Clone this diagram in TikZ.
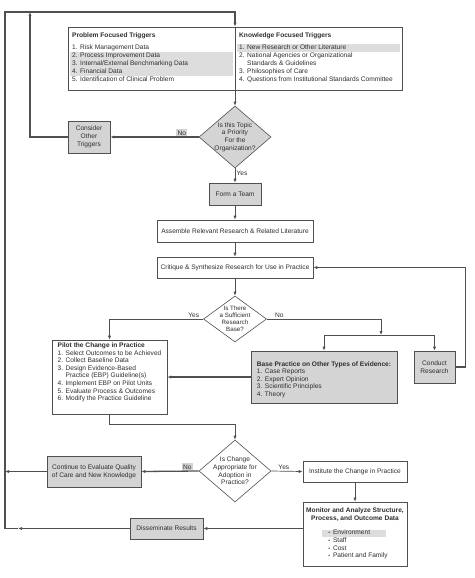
\documentclass[tikz,border=0pt]{standalone}
\usepackage{fontspec}
\setmainfont{Liberation Sans}
\usetikzlibrary{shapes.geometric,arrows.meta}
\definecolor{boxgray}{HTML}{D4D4D4}
\definecolor{hlgray}{HTML}{DDDDDD}
\definecolor{inkgray}{HTML}{2E2E2E}
\definecolor{linegray}{HTML}{505050}
\tikzset{
  box/.style={draw=linegray,fill=white,text=inkgray,line width=0.6pt,inner sep=1pt,align=center},
  graybox/.style={box,fill=boxgray},
  decision/.style={draw=linegray,fill=white,text=inkgray,line width=0.6pt,shape=diamond,inner sep=-5pt,align=center},
  flow/.style={draw=linegray,line width=0.7pt,-{Latex[length=4pt,width=3.2pt]}},
  mainflow/.style={flow,line width=1.3pt},
  answer/.style={text=inkgray,inner sep=1.2pt},
}
\begin{document}
\begin{tikzpicture}[x=1pt,y=-1pt,font=\fontsize{6.6}{7.6}\selectfont]
\useasboundingbox (0,0) rectangle (474,578);
% triggers
\node[box,minimum width=334pt,minimum height=63pt] (trig) at (235,58.5) {};
\fill[hlgray] (70,52) rectangle (233,76);
\fill[hlgray] (237,44) rectangle (400,52);
\node[anchor=north west,text=inkgray,inner sep=0pt,font=\fontsize{6.6}{8}\selectfont] (probl) at (72,32) {%
  \begin{tabular}{@{}l@{\hspace{2.5pt}}l@{}}
  \multicolumn{2}{@{}l@{}}{\textbf{Problem Focused Triggers}}\\[4pt]
  1. & Risk Management Data\\
  2. & Process Improvement Data\\
  3. & Internal/External Benchmarking Data\\
  4. & Financial Data\\
  5. & Identification of Clinical Problem
  \end{tabular}};
\node[anchor=north west,text=inkgray,inner sep=0pt,font=\fontsize{6.6}{8}\selectfont] (knowl) at (239,32) {%
  \begin{tabular}{@{}l@{\hspace{2.5pt}}l@{}}
  \multicolumn{2}{@{}l@{}}{\textbf{Knowledge Focused Triggers}}\\[4pt]
  1. & New Research or Other Literature\\
  2. & National Agencies or Organizational\\
     & Standards \& Guidelines\\
  3. & Philosophies of Care\\
  4. & Questions from Institutional Standards Committee
  \end{tabular}};
% nodes
\node[decision,fill=boxgray,minimum width=72pt,minimum height=62pt] (prio) at (235,137) {Is this Topic\\a Priority\\For the\\Organization?};
\node[graybox,minimum width=42pt,minimum height=32pt,font=\fontsize{6.6}{8}\selectfont] (other) at (89,137) {Consider\\Other\\Triggers};
\node[graybox,minimum width=52pt,minimum height=22pt] (team) at (235,194) {Form a Team};
\node[box,minimum width=156pt,minimum height=22pt] (assem) at (235,231) {Assemble Relevant Research \& Related Literature};
\node[box,minimum width=156pt,minimum height=21pt] (crit) at (235,267.5) {Critique \& Synthesize Research for Use in Practice};
\node[decision,minimum width=63pt,minimum height=46pt,font=\fontsize{6.2}{7}\selectfont] (suff) at (235,319) {Is There\\a Sufficient\\Research\\Base?};
\node[box,minimum width=115pt,minimum height=74pt,align=left] (pilot) at (109.5,377) {%
  \begin{tabular}{@{}l@{\hspace{2.5pt}}l@{}}
  \multicolumn{2}{@{}l@{}}{\textbf{Pilot the Change in Practice}}\\
  1. & Select Outcomes to be Achieved\\
  2. & Collect Baseline Data\\
  3. & Design Evidence-Based\\
     & Practice (EBP) Guideline(s)\\
  4. & Implement EBP on Pilot Units\\
  5. & Evaluate Process \& Outcomes\\
  6. & Modify the Practice Guideline\\[9pt]
  \end{tabular}};
\node[graybox,minimum width=146pt,minimum height=52pt,align=left] (evid) at (324,377) {%
  \begin{tabular}{@{}l@{\hspace{2.5pt}}l@{}}
  \multicolumn{2}{@{}l@{}}{\rule{0pt}{11pt}\textbf{Base Practice on Other Types of Evidence:}}\\
  1. & Case Reports\\
  2. & Expert Opinion\\
  3. & Scientific Principles\\
  4. & Theory
  \end{tabular}};
\node[graybox,minimum width=41pt,minimum height=32pt] (cond) at (434.5,367) {Conduct\\Research};
\node[decision,minimum width=72pt,minimum height=62pt] (chg) at (235,471) {Is Change\\Appropriate for\\Adoption in\\Practice?};
\node[graybox,minimum width=94pt,minimum height=31pt] (cont) at (94,471.5) {Continue to Evaluate Quality\\of Care and New Knowledge};
\node[box,minimum width=104pt,minimum height=21pt] (inst) at (355,471.5) {Institute the Change in Practice};
\node[box,minimum width=104pt,minimum height=64pt] (mon) at (355,534) {\textbf{Monitor and Analyze Structure,}\\\textbf{Process, and Outcome Data}\\[7pt]
  {\setlength{\fboxsep}{0pt}\begin{tabular}{@{}l@{}}
  \colorbox{hlgray}{\strut\hspace{6pt}{\fontsize{5}{5}\selectfont\textbullet}\hspace{3pt}Environment\hspace{16pt}}\\
  \hspace{6pt}{\fontsize{5}{5}\selectfont\textbullet}\hspace{3pt}Staff\\
  \hspace{6pt}{\fontsize{5}{5}\selectfont\textbullet}\hspace{3pt}Cost\\
  \hspace{6pt}{\fontsize{5}{5}\selectfont\textbullet}\hspace{3pt}Patient and Family
  \end{tabular}}};
\node[graybox,minimum width=73pt,minimum height=21pt] (diss) at (166.5,528.5) {Disseminate Results};
% loop coordinates
\coordinate (loopbot) at (5,528.5);
\coordinate (looptop) at (5,12);
\coordinate (othtop) at (30,12);
\coordinate (dissarrow) at (18,528.5);
\coordinate (split) at (381,335);
% connectors
\draw[mainflow] (diss.west) -- (dissarrow);
\draw[mainflow] (dissarrow) -- (loopbot) -- (looptop) -| (trig.north);
\draw[mainflow] (cont.west) -- (cont.west -| loopbot);
\draw[mainflow] (prio.west) -- (other.east) node[answer,fill=boxgray,above,pos=0.19] {No};
\draw[mainflow] (other.west) -| (othtop);
\draw[flow] (trig.north) -- (prio.north);
\draw[flow] (prio.south) -- (team.north) node[answer,right,pos=0.35] {Yes};
\draw[flow] (team.south) -- (assem.north);
\draw[flow] (assem.south) -- (crit.north);
\draw[flow] (crit.south) -- (suff.north);
\draw[flow] (suff.west) -| (pilot.north) node[answer,above,pos=0.05] {Yes};
\draw[flow] (suff.east) -| (split) node[answer,above,pos=0.055] {No};
\draw[flow] (split) -| (evid.north);
\draw[flow] (split) -| (cond.north);
\draw[mainflow] (evid.west) -- (pilot.east);
\draw[mainflow] (cond.east) -- ++(10,0) |- (crit.east);
\draw[flow] (pilot.south) -- ++(0,10) -| (chg.north);
\draw[mainflow] (chg.west) -- (cont.east) node[answer,fill=boxgray,above,pos=0.2] {No};
\draw[flow] (chg.east) -- (inst.west) node[answer,above,pos=0.4] {Yes};
\draw[flow] (inst.south) -- (mon.north);
\draw[mainflow] (diss.east -| mon.west) -- (diss.east);
\end{tikzpicture}
\end{document}
